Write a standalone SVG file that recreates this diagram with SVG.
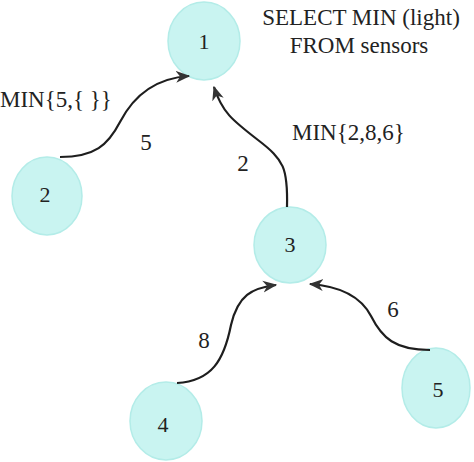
<svg xmlns="http://www.w3.org/2000/svg" width="474" height="462" viewBox="0 0 474 462">
<style>
.node ellipse{fill:#c9f4f1;stroke:#b3ece8;stroke-width:1.5}
text{font-family:"Liberation Serif","Times New Roman",serif;font-size:22px;fill:#222}
#labels text{font-size:23px}
.c path{fill:none;stroke:#1e1e1e;stroke-width:2.2;marker-end:url(#ah)}
</style>
<defs>
<marker id="ah" viewBox="0 0 12 10" refX="11" refY="5" markerWidth="6.5" markerHeight="6" orient="auto" markerUnits="strokeWidth">
<path d="M0,0 L12,5 L0,10 L3.5,5 Z" fill="#333"/>
</marker>
</defs>
<rect width="474" height="462" fill="#fff"/>
<g id="n1" class="node"><ellipse cx="204" cy="41" rx="36" ry="39"/><text x="204" y="49" text-anchor="middle">1</text></g>
<g id="n2" class="node"><ellipse cx="47" cy="196" rx="35" ry="39"/><text x="45" y="202" text-anchor="middle">2</text></g>
<g id="n3" class="node"><ellipse cx="290" cy="245" rx="36" ry="38"/><text x="290" y="252" text-anchor="middle">3</text></g>
<g id="n4" class="node"><ellipse cx="166" cy="421" rx="36" ry="39"/><text x="163" y="432" text-anchor="middle">4</text></g>
<g id="n5" class="node"><ellipse cx="436" cy="388" rx="34" ry="40"/><text x="438" y="397" text-anchor="middle">5</text></g>
<g id="connectors" class="c">
<path d="M60,157 C95,157 108,145 120,122 C135,93 158,78 189,76"/>
<path d="M287,207 C288,168 284,160 258,140 C232,120 222,112 214,87"/>
<path d="M177,383 C212,381 224,360 231,325 C238,295 252,288 276,285"/>
<path d="M430,350 C395,350 382,338 371,316 C360,295 338,286 310,284"/>
</g>
<g id="labels">
<text x="361" y="25" text-anchor="middle">SELECT MIN (light)</text>
<text x="359" y="53" text-anchor="middle">FROM sensors</text>
<text x="0" y="107">MIN{5,{ }}</text>
<text x="146" y="150" text-anchor="middle">5</text>
<text x="292" y="140">MIN{2,8,6}</text>
<text x="243" y="171" text-anchor="middle">2</text>
<text x="204" y="348" text-anchor="middle">8</text>
<text x="393" y="317" text-anchor="middle">6</text>
</g>
</svg>
